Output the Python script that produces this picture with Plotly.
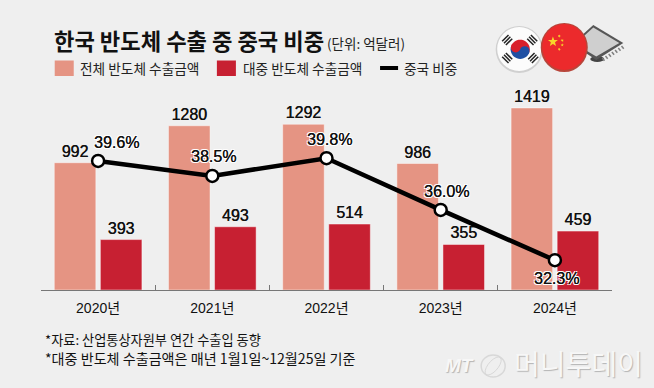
import math
import plotly.graph_objects as go

years = ["2020년", "2021년", "2022년", "2023년", "2024년"]
total_exports = [992, 1280, 1292, 986, 1419]
china_exports = [393, 493, 514, 355, 459]
china_share = [39.6, 38.5, 39.8, 36.0, 32.3]
share_labels = ["39.6%", "38.5%", "39.8%", "36.0%", "32.3%"]
share_shift = [(18, 18), (1, 19), (3, 19), (6, 18), (2, -18)]

TITLE = "한국 반도체 수출 중 중국 비중"
UNIT = "(단위: 억달러)"
LEGEND = ["전체 반도체 수출금액", "대중 반도체 수출금액", "중국 비중"]
NOTES = ["*자료: 산업통상자원부 연간 수출입 동향",
         "*대중 반도체 수출금액은 매년 1월1일~12월25일 기준"]

BG = "#EFEFEF"
SALMON = "#E59483"
CRIMSON = "#C72032"
W, H = 654, 388
L, R, T, B = 41.3, 611.7, 100, 290
KR = "Noto Sans CJK KR, sans-serif"
NUM = "Liberation Sans, Noto Sans CJK KR, sans-serif"
HEAVY = "0.3px 0 0 #111"
HALO = HEAVY + ", 1px 1px 0 #fff, -1px -1px 0 #fff, 1px -1px 0 #fff, -1px 1px 0 #fff"
EMBOSS = "1px 1px 1px #B4B4B4"


def px(x, y):
    return (x - L) / (R - L), (B - y) / (B - T)


def path(points, close=True):
    d = " ".join(("M" if i == 0 else "L") + f"{px(*p)[0]:.5f},{px(*p)[1]:.5f}" for i, p in enumerate(points))
    return d + (" Z" if close else "")


def poly(points, fill, line="rgba(0,0,0,0)", lw=0):
    return dict(type="path", xref="paper", yref="paper", path=path(points), fillcolor=fill,
                line=dict(color=line, width=lw), layer="above")


def seg(p, q, color, lw):
    return dict(type="path", xref="paper", yref="paper", path=path([p, q], False),
                line=dict(color=color, width=lw), layer="above")


def ell(cx, cy, rx, ry, fill, line="rgba(0,0,0,0)", lw=0):
    x0, y0 = px(cx - rx, cy - ry)
    x1, y1 = px(cx + rx, cy + ry)
    return dict(type="circle", xref="paper", yref="paper", x0=x0, y0=y0, x1=x1, y1=y1,
                fillcolor=fill, line=dict(color=line, width=lw), layer="above")


def box(x0, y0, x1, y1, fill):
    a, b = px(x0, y0), px(x1, y1)
    return dict(type="rect", xref="paper", yref="paper", x0=a[0], y0=a[1], x1=b[0], y1=b[1],
                fillcolor=fill, line=dict(width=0), layer="above")


def star(cx, cy, r, rot=0.0):
    pts = []
    for i in range(10):
        a = math.radians(-90 + 36 * i + rot)
        rr = r if i % 2 == 0 else r * 0.42
        pts.append((cx + rr * math.cos(a), cy + rr * math.sin(a)))
    return poly(pts, "#F7D72A")


def text(x, y, s, size, color="#111", bold=False, family=KR, anchor="left", **font):
    return dict(xref="paper", yref="paper", x=px(x, y)[0], y=px(x, y)[1], text=f"<b>{s}</b>" if bold else s,
                showarrow=False, xanchor=anchor, yanchor="middle", borderpad=0, borderwidth=0,
                font=dict(family=family, size=size, color=color, **font))


pale = dict(color="rgba(255,255,255,0.45)", width=1)
fig = go.Figure()
fig.add_bar(x=years, y=total_exports, name=LEGEND[0], marker=dict(color=SALMON, line=pale), text=total_exports,
            textposition="outside", cliponaxis=False, textangle=0,
            textfont=dict(family=NUM, size=16, color="#111", shadow=HEAVY))
fig.add_bar(x=years, y=china_exports, name=LEGEND[1], marker=dict(color=CRIMSON, line=pale), text=china_exports,
            textposition="outside", cliponaxis=False, textangle=0,
            textfont=dict(family=NUM, size=16, color="#111", shadow=HEAVY))
fig.add_scatter(x=years, y=china_share, name=LEGEND[2], yaxis="y2", mode="lines+markers",
                line=dict(color="#000", width=4.5),
                marker=dict(size=12, color="#fff", line=dict(color="#000", width=2.5)), cliponaxis=False)

annotations = []
for yr, v, lab, (dx, dy) in zip(years, china_share, share_labels, share_shift):
    annotations.append(dict(x=yr, y=v, xref="x", yref="y2", text=lab, showarrow=False, xshift=dx, yshift=dy,
                            font=dict(family=NUM, size=16, color="#111", shadow=HALO)))

annotations += [
    text(54, 40, TITLE, 22.2, bold=True, color="#111"),
    text(327, 43, UNIT, 13.5, color="#222"),
    text(80, 68, LEGEND[0], 13.7, color="#222"),
    text(243, 68, LEGEND[1], 13.7, color="#222"),
    text(404, 68, LEGEND[2], 13.7, color="#222"),
    text(45, 339, NOTES[0], 13.2, color="#111"),
    text(45, 358, NOTES[1], 14.1, color="#111"),
    text(445, 365, "<i>MT</i>", 19, color="#F7F7F7", family="Liberation Sans, sans-serif",
         bold=True, shadow=EMBOSS),
    text(514, 363, "머니투데이", 28, color="#F7F7F7", shadow=EMBOSS),
]

shapes = [box(55, 60.5, 74, 76, SALMON), box(217, 60.5, 236, 76, CRIMSON), seg((380, 68), (398, 68), "#000", 4)]

# watermark ring
shapes += [ell(493, 366, 12, 11, "rgba(0,0,0,0)", "#D8D8D8", 1.5)]
tilt = math.radians(-50)
shapes.append(dict(type="path", xref="paper", yref="paper", layer="above", line=dict(color="#D8D8D8", width=1),
                   path=path([(493 + 11 * math.cos(math.radians(a)) * math.cos(tilt) - 5 * math.sin(math.radians(a)) * math.sin(tilt),
                               366 + 11 * math.cos(math.radians(a)) * math.sin(tilt) + 5 * math.sin(math.radians(a)) * math.cos(tilt))
                              for a in range(0, 360, 20)])))

# chip icon
shapes += [
    ell(597, 59, 7, 3, "#444"),
    poly([(572, 44), (593, 25), (623, 43), (596, 60)], "#565656"),
    poly([(575, 44), (593, 27.5), (619, 43), (596, 56.5)], "#CFCFCF"),
]
for i in range(7):
    x0 = 602 + i * 3.2
    y0 = 58 - i * 2.0
    shapes.append(seg((x0, y0), (x0 + 2.2, y0 + 2.8), "#808080", 1.5))

# Korean flag icon
tc = (520, 49.3)
tr = 9.6
shapes += [
    ell(519, 49.5, 23.5, 23.5, "#D0D0D0"),
    ell(519, 49, 22, 22, "#FCFCFC"),
    poly([(tc[0] + tr * math.cos(math.radians(a)), tc[1] + tr * math.sin(math.radians(a)))
          for a in range(200, 381, 10)], "#D9202C"),
    poly([(tc[0] + tr * math.cos(math.radians(a)), tc[1] + tr * math.sin(math.radians(a)))
          for a in range(20, 201, 10)], "#1F4FA3"),
    ell(tc[0] - tr / 2 * math.cos(math.radians(20)), tc[1] - tr / 2 * math.sin(math.radians(20)), tr / 2, tr / 2, "#D9202C"),
    ell(tc[0] + tr / 2 * math.cos(math.radians(20)), tc[1] + tr / 2 * math.sin(math.radians(20)), tr / 2, tr / 2, "#1F4FA3"),
]
for cx, cy, ang in [(507, 40, -45), (532, 40, 45), (507, 58, 45), (533, 58, -45)]:
    a = math.radians(ang)
    for k in (-2.6, 0, 2.6):
        ox, oy = k * math.cos(a + math.pi / 2), k * math.sin(a + math.pi / 2)
        ux, uy = 4.5 * math.cos(a), 4.5 * math.sin(a)
        shapes.append(seg((cx + ox - ux, cy + oy - uy), (cx + ox + ux, cy + oy + uy), "#222", 1.5))

# Chinese flag icon
shapes += [
    ell(564, 47.5, 23.5, 24.5, "#B8453A"),
    ell(564, 47, 22, 23, "#EC2A2C"),
    star(552.7, 41.7, 5.2),
    star(559, 36, 1.7, 20),
    star(562, 40.5, 1.7, 40),
    star(562, 45, 1.7, 0),
    star(559, 49.3, 1.7, 20),
]

fig.update_layout(
    width=W, height=H, autosize=False,
    margin=dict(l=L, r=W - R, t=T, b=H - B, pad=0),
    paper_bgcolor=BG, plot_bgcolor=BG, showlegend=False,
    barmode="group", bargap=0.193, bargroupgap=0.098,
    xaxis=dict(type="category", tickson="boundaries", ticks="inside", ticklen=5, tickwidth=1, tickcolor="#777",
               showline=True, linecolor="#777", linewidth=1.2, showgrid=False, zeroline=False,
               ticklabelstandoff=5, tickfont=dict(family=NUM, size=14, color="#111")),
    yaxis=dict(range=[0, 190 / 0.1283], visible=False, fixedrange=True),
    yaxis2=dict(range=[30.11, 30.11 + 190 / 13.6], overlaying="y", visible=False, fixedrange=True),
    annotations=annotations, shapes=shapes,
)

fig.write_html("out.html", config=dict(displayModeBar=False),
               post_script="document.body.style.margin='0';document.body.style.overflow='hidden';")
